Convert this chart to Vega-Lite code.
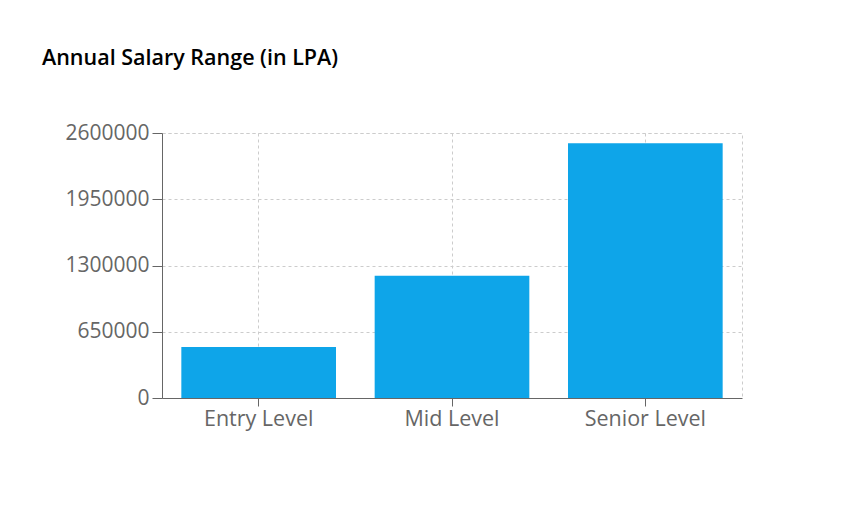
{
  "$schema": "https://vega.github.io/schema/vega-lite/v6.json",
  "autosize": {"type": "none"},
  "width": 580,
  "height": 265,
  "padding": {"left": 162, "top": 133, "right": 103, "bottom": 114},
  "background": "#ffffff",
  "title": {
    "text": "Annual Salary Range (in LPA)",
    "anchor": "start",
    "frame": "group",
    "dx": -120,
    "offset": 36,
    "baseline": "alphabetic",
    "font": "Open Sans",
    "fontSize": 21.5,
    "fontWeight": 600,
    "color": "#000000"
  },
  "data": {
    "values": [
      {"level": "Entry Level", "salary": 500000},
      {"level": "Mid Level", "salary": 1200000},
      {"level": "Senior Level", "salary": 2500000}
    ]
  },
  "mark": {"type": "bar", "color": "#0ea5e9"},
  "encoding": {
    "x": {
      "field": "level",
      "type": "nominal",
      "sort": null,
      "scale": {"paddingInner": 0.2, "paddingOuter": 0.1},
      "axis": {
        "title": null,
        "labelAngle": 0,
        "bandPosition": 0.5,
        "grid": true,
        "gridDash": [3, 3],
        "gridColor": "#cccccc",
        "domainColor": "#666666",
        "tickColor": "#666666",
        "tickSize": 8,
        "labelPadding": 2,
        "labelFont": "Open Sans",
        "labelFontSize": 21.5,
        "labelColor": "#666666"
      }
    },
    "y": {
      "field": "salary",
      "type": "quantitative",
      "scale": {"domain": [0, 2600000], "nice": false},
      "axis": {
        "title": null,
        "values": [0, 650000, 1300000, 1950000, 2600000],
        "format": "d",
        "grid": true,
        "gridDash": [3, 3],
        "gridColor": "#cccccc",
        "domain": true,
        "domainColor": "#666666",
        "tickColor": "#666666",
        "tickSize": 10,
        "labelPadding": 3,
        "labelFont": "Open Sans",
        "labelFontSize": 21,
        "labelColor": "#666666"
      }
    }
  },
  "config": {
    "view": {"stroke": "#cccccc", "strokeDash": [3, 3]}
  }
}
